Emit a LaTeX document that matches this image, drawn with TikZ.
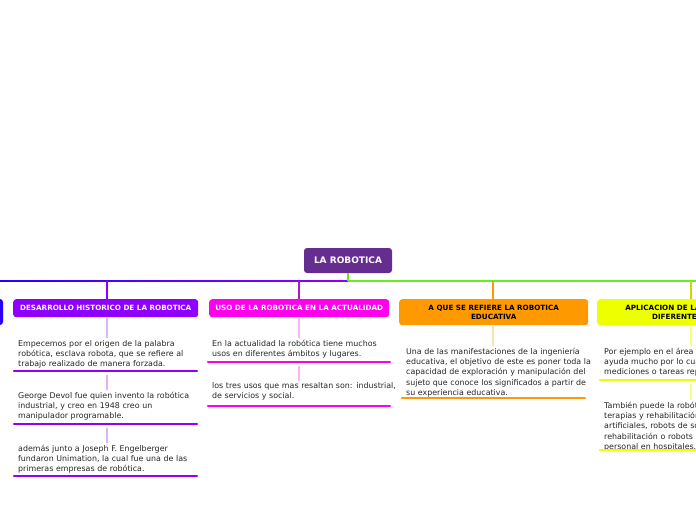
\documentclass[tikz,border=0pt]{standalone}
\usepackage{fontspec}
\setmainfont{DejaVu Sans}
\definecolor{cRoot}{HTML}{662D91}
\definecolor{cBlue}{HTML}{2A00FF}
\definecolor{cPur}{HTML}{8F00FF}
\definecolor{cMag}{HTML}{FF00EE}
\definecolor{cOra}{HTML}{FF9900}
\definecolor{cYel}{HTML}{EEFF00}
\definecolor{cGre}{HTML}{66EE22}
\begin{document}
\begin{tikzpicture}[x=1pt,y=-1pt,
 title/.style={rounded corners=3pt,anchor=north west,inner sep=0pt,font=\fontsize{7.2}{8.4}\selectfont\bfseries,align=center},
 body/.style={anchor=north west,inner sep=0pt,font=\fontsize{7.9}{10.2}\selectfont,align=left,text=black!85},
 ul/.style={line width=2.4pt,line cap=round},
 vl/.style={line width=1.8pt}]
\useasboundingbox (0,0) rectangle (696,520);
\clip (0,0) rectangle (696,520);
% main horizontal
\shade[left color=cBlue,right color=cPur] (0,280.2) rectangle (348,281.8);
\draw[cGre,line width=1.6pt] (348,281) -- (700,281);
\node[fill=cRoot,rounded corners=3pt,minimum width=88pt,minimum height=25pt,text=white,font=\fontsize{9}{10}\selectfont\bfseries] (root) at (348,260.5) {LA ROBOTICA};
\draw[cGre,vl] (root.south) -- (348,281);
% branch 1 (off left)
\fill[cBlue,rounded corners=3pt] (-10,299) rectangle (3,325);
% branch 2
\node[title,fill=cPur,text=white,minimum width=185pt,minimum height=18pt] (b2) at (13,299) {DESARROLLO HISTORICO DE LA ROBOTICA};
\draw[cPur,vl] (107,281) -- (107,299);
\node[body,text width=180pt] (t21) at (18,340) {Empecemos por el origen de la palabra\\robótica, esclava robota, que se refiere al\\trabajo realizado de manera forzada.};
\draw[cPur,ul] (14,371) -- (197,371);
\node[body,text width=180pt] (t22) at (18,392) {George Devol fue quien invento la robótica\\industrial, y creo en 1948 creo un\\manipulador programable.};
\draw[cPur,ul] (14,424) -- (197,424);
\node[body,text width=180pt] (t23) at (18,445) {además junto a Joseph F. Engelberger\\fundaron Unimation, la cual fue una de las\\primeras empresas de robótica.};
\draw[cPur,ul] (14,476) -- (197,476);
\draw[cPur!30,vl] (107,318) -- (107,338) (107,375) -- (107,390) (107,428) -- (107,443);
% branch 3
\node[title,fill=cMag,text=white,minimum width=180pt,minimum height=18pt] (b3) at (209,299) {USO DE LA ROBOTICA EN LA ACTUALIDAD};
\draw[cRoot!50!cMag,vl] (299,281) -- (299,299);
\node[body,text width=180pt] (t31) at (212,340) {En la actualidad la robótica tiene muchos\\usos en diferentes ámbitos y lugares.};
\draw[cMag,ul] (208,362) -- (390,362);
\node[body,text width=185pt] (t32) at (212,382) {los tres usos que mas resaltan son: industrial,\\de servicios y social.};
\draw[cMag,ul] (208,406) -- (390,406);
\draw[cMag!30,vl] (299,318) -- (299,338) (299,366) -- (299,381);
% branch 4
\node[title,fill=cOra,text=black,minimum width=189pt,minimum height=26pt] (b4) at (399,299) {A QUE SE REFIERE LA ROBOTICA\\EDUCATIVA};
\draw[cOra,vl] (493,281) -- (493,299);
\draw[cOra!30,vl] (493,326) -- (493,346);
\node[body,text width=185pt] (t41) at (406,348) {Una de las manifestaciones de la ingeniería\\educativa, el objetivo de este es poner toda la\\capacidad de exploración y manipulación del\\sujeto que conoce los significados a partir de\\su experiencia educativa.};
\draw[cOra,ul] (402,398) -- (585,398);
% branch 5
\node[title,fill=cYel,text=black,minimum width=189pt,minimum height=26pt] (b5) at (597,299) {APLICACION DE LA ROBOTICA EN\\DIFERENTES AREAS};
\draw[cYel!85!black,vl] (691,281) -- (691,299);
\draw[cYel!50,vl] (691,326) -- (691,346) (691,384) -- (691,400);
\node[body,text width=185pt] (t51) at (604,348) {Por ejemplo en el área medica la robótica\\ayuda mucho por lo cual realiza\\mediciones o tareas repetitivas.};
\draw[cYel,ul] (600,380) -- (783,380);
\node[body,text width=185pt] (t52) at (604,402) {También puede la robótica ayudar en\\terapias y rehabilitación: miembros\\artificiales, robots de soporte en\\rehabilitación o robots para ayudar al\\personal en hospitales.};
\draw[cYel,ul] (600,450) -- (783,450);
\end{tikzpicture}
\end{document}
